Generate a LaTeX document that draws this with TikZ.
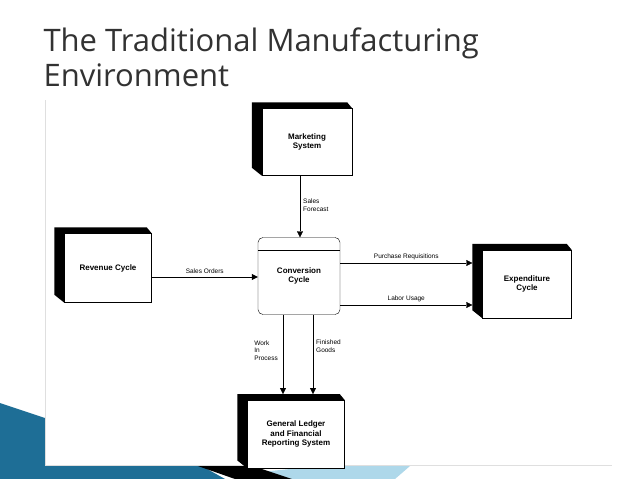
\documentclass[tikz,border=0pt]{standalone}
\usepackage{fontspec}
\setmainfont{Liberation Sans}
\newfontfamily\titlefont{Open Sans}
\usetikzlibrary{positioning, arrows.meta, calc}
\definecolor{titleGray}{RGB}{50, 50, 50}
\definecolor{swoopBlue}{RGB}{30, 110, 150}
\definecolor{swoopLight}{RGB}{120, 190, 220}
\tikzset{
    sysbox/.style={draw, fill=white, minimum width=90pt, minimum height=67pt,
        align=center, font=\fontsize{8}{9.5}\selectfont\bfseries, inner sep=1pt},
    flow/.style={-{Triangle[length=6pt, width=6pt]}, thin},
    flowlabel/.style={font=\fontsize{6.5}{7.5}\selectfont, align=left, inner sep=1pt}
}
% box with dark extruded edge on top and left
\newcommand{\darkedge}[1]{%
    \fill ($(#1.north west)+(-10pt,6pt)$) -- ($(#1.north east)+(-5pt,6pt)$)
        -- (#1.north east) -- (#1.north west) -- (#1.south west)
        -- ($(#1.south west)+(-10pt,8pt)$) -- cycle;}
\begin{document}
\begin{tikzpicture}[x=1pt, y=-1pt, >=stealth]
    \useasboundingbox (0,0) rectangle (638,479);
    \fill[white] (0,0) rectangle (638,479);

    % Slide decoration
    \fill[swoopBlue] (0,403) -- (45,418) -- (45,465) -- (200,465)
        -- (225,479) -- (0,479) -- cycle;
    \fill[swoopLight!60!white] (260,472) -- (330,465) -- (410,466) -- (395,479) -- (290,479) -- cycle;
    \fill[black] (195,465) -- (250,465) -- (292,479) -- (235,479) -- cycle;
    \draw[gray!25] (45,100) -- (45,465) -- (612,465);

    % Title
    \node[anchor=base west, text=titleGray, font=\titlefont\fontsize{31}{36}\selectfont]
        (title1) at (40,52) {The Traditional Manufacturing};
    \node[anchor=base west, text=titleGray, font=\titlefont\fontsize{31}{36}\selectfont]
        (title2) at (40,86) {Environment};

    % Systems
    \node[sysbox] (mkt) at (307,142) {Marketing\\System};
    \node[sysbox, minimum width=87pt, minimum height=69pt] (rev) at (108,268) {Revenue Cycle};
    \node[sysbox, minimum width=89pt, minimum height=68pt] (exp) at (527,284) {Expenditure\\Cycle};
    \node[sysbox, minimum width=97pt, minimum height=68pt, anchor=north] (gl) at (296,400)
        {General Ledger\\and Financial\\Reporting System};
    \darkedge{mkt}
    \darkedge{rev}
    \darkedge{exp}
    \darkedge{gl}

    % Conversion cycle
    \node[draw, rounded corners=5pt, minimum width=82pt, minimum height=77pt,
        font=\fontsize{8}{9.5}\selectfont\bfseries, align=center] (conv) at (299,276)
        {Conversion\\Cycle};
    \draw (conv.north west |- 0,250) -- (conv.north east |- 0,250);

    % Flows
    \coordinate (expIn1) at ($(exp.west |- 0,263)+(-10,0)$);
    \coordinate (expIn2) at ($(exp.west |- 0,305)+(-10,0)$);
    \coordinate (glIn1) at ($(gl.north -| 283,0)+(0,-6)$);
    \coordinate (glIn2) at ($(gl.north -| 313,0)+(0,-6)$);
    \draw[flow] (mkt.south -| 300,0) -- (conv.north -| 300,0)
        node[flowlabel, pos=0.48, right=2pt] {Sales\\Forecast};
    \draw[flow] (rev.east |- 0,277) -- (conv.west |- 0,277)
        node[flowlabel, midway, above=2pt] {Sales Orders};
    \draw[flow] (conv.east |- 0,263) -- (expIn1)
        node[flowlabel, midway, above=2pt] {Purchase Requisitions};
    \draw[flow] (conv.east |- 0,305) -- (expIn2)
        node[flowlabel, midway, above=2pt] {Labor Usage};
    \draw[flow] (conv.south -| 283,0) -- (glIn1)
        node[flowlabel, pos=0.45, left=4pt] {Work\\In\\Process};
    \draw[flow] (conv.south -| 313,0) -- (glIn2)
        node[flowlabel, pos=0.4, right=2pt] {Finished\\Goods};
\end{tikzpicture}
\end{document}
